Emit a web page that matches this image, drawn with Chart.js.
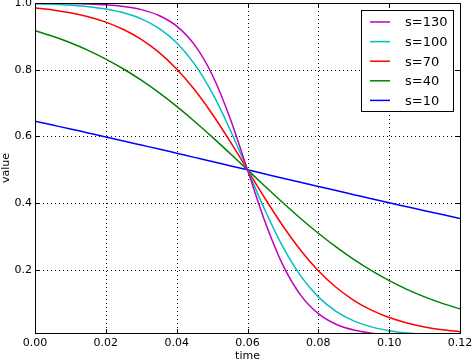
<!DOCTYPE html>
<html>
<head>
<meta charset="utf-8">
<script src="https://cdn.jsdelivr.net/npm/chart.js@4"></script>
<style>
  html, body { margin: 0; padding: 0; background: #fff; }
  canvas { display: block; }
</style>
</head>
<body>
<canvas id="chart" width="474" height="361"></canvas>
<script>
// sample times (x axis)
const times = [0, 0.005, 0.01, 0.015, 0.02, 0.025, 0.03, 0.035, 0.04, 0.045, 0.05, 0.055,
               0.06, 0.065, 0.07, 0.075, 0.08, 0.085, 0.09, 0.095, 0.1, 0.105, 0.11, 0.115, 0.12];

// values
const s130 = [0.9996, 0.9992, 0.9985, 0.9971, 0.9945, 0.9895, 0.9802, 0.9627, 0.9309, 0.8754, 0.7858, 0.6570,
              0.5, 0.3430, 0.2142, 0.1246, 0.0691, 0.0373, 0.0198, 0.0105, 0.0055, 0.0029, 0.0015, 0.0008, 0.0004];
const s100 = [0.9975, 0.9959, 0.9933, 0.9890, 0.9820, 0.9707, 0.9526, 0.9241, 0.8808, 0.8176, 0.7311, 0.6225,
              0.5, 0.3775, 0.2689, 0.1824, 0.1192, 0.0759, 0.0474, 0.0293, 0.0180, 0.0110, 0.0067, 0.0041, 0.0025];
const s70  = [0.9852, 0.9792, 0.9707, 0.9589, 0.9427, 0.9206, 0.8909, 0.8520, 0.8022, 0.7408, 0.6682, 0.5866,
              0.5, 0.4134, 0.3318, 0.2592, 0.1978, 0.1480, 0.1091, 0.0794, 0.0573, 0.0411, 0.0293, 0.0208, 0.0148];
const s40  = [0.9168, 0.9002, 0.8808, 0.8581, 0.8320, 0.8022, 0.7685, 0.7311, 0.6900, 0.6457, 0.5987, 0.5498,
              0.5, 0.4502, 0.4013, 0.3543, 0.3100, 0.2689, 0.2315, 0.1978, 0.1680, 0.1419, 0.1192, 0.0998, 0.0832];
const s10  = [0.6457, 0.6341, 0.6225, 0.6106, 0.5987, 0.5866, 0.5744, 0.5622, 0.5498, 0.5374, 0.5250, 0.5125,
              0.5, 0.4875, 0.4750, 0.4626, 0.4502, 0.4378, 0.4256, 0.4134, 0.4013, 0.3894, 0.3775, 0.3659, 0.3543];

const seriesLabels = ['s=130', 's=100', 's=70', 's=40', 's=10'];
const seriesValues = [s130, s100, s70, s40, s10];
const seriesColors = ['#bf00bf', '#00bfbf', '#ff0000', '#008000', '#0000ff'];

const xTicks = [0, 0.02, 0.04, 0.06, 0.08, 0.10, 0.12];
const yTicks = [0.2, 0.4, 0.6, 0.8, 1.0];

const FONT = 'DejaVu Sans';

// grid, spines, inward ticks and the boxed legend, matplotlib style
const mplFrame = {
    id: 'mplFrame',
    beforeDatasetsDraw(chart) {
        const { ctx, chartArea: a, scales: { x, y } } = chart;
        ctx.save();
        ctx.strokeStyle = '#000';
        ctx.lineWidth = 1;
        ctx.setLineDash([1, 3]);
        xTicks.forEach(v => {
            const px = Math.round(x.getPixelForValue(v)) + 0.5;
            ctx.beginPath(); ctx.moveTo(px, a.top); ctx.lineTo(px, a.bottom); ctx.stroke();
        });
        yTicks.forEach(v => {
            const py = Math.round(y.getPixelForValue(v)) + 0.5;
            ctx.beginPath(); ctx.moveTo(a.left, py); ctx.lineTo(a.right, py); ctx.stroke();
        });
        ctx.restore();
    },
    afterDatasetsDraw(chart) {
        const { ctx, chartArea: a, scales: { x, y } } = chart;
        ctx.save();
        ctx.strokeStyle = '#000';
        ctx.lineWidth = 1;
        // ticks pointing inward on all four sides
        xTicks.forEach(v => {
            const px = Math.round(x.getPixelForValue(v)) + 0.5;
            ctx.beginPath();
            ctx.moveTo(px, a.bottom); ctx.lineTo(px, a.bottom - 4);
            ctx.moveTo(px, a.top); ctx.lineTo(px, a.top + 4);
            ctx.stroke();
        });
        yTicks.forEach(v => {
            const py = Math.round(y.getPixelForValue(v)) + 0.5;
            ctx.beginPath();
            ctx.moveTo(a.left, py); ctx.lineTo(a.left + 4, py);
            ctx.moveTo(a.right, py); ctx.lineTo(a.right - 4, py);
            ctx.stroke();
        });
        ctx.strokeRect(Math.round(a.left) + 0.5, Math.round(a.top) + 0.5,
                       Math.round(a.right - a.left), Math.round(a.bottom - a.top));

        // legend
        const lx = 361, ly = 10, lw = 92, lh = 101;
        ctx.fillStyle = '#fff';
        ctx.fillRect(lx, ly, lw, lh);
        ctx.strokeRect(lx + 0.5, ly + 0.5, lw, lh);
        ctx.font = '13px "' + FONT + '"';
        ctx.textBaseline = 'middle';
        chart.data.datasets.forEach((ds, i) => {
            const ry = ly + 12 + i * 19.6;
            ctx.strokeStyle = ds.borderColor;
            ctx.lineWidth = 1.5;
            ctx.beginPath(); ctx.moveTo(370, ry); ctx.lineTo(390, ry); ctx.stroke();
            ctx.fillStyle = '#000';
            ctx.fillText(ds.label, 405, ry + 1);
        });
        ctx.restore();
    }
};

new Chart(document.getElementById('chart'), {
    type: 'line',
    data: {
        datasets: seriesLabels.map((label, i) => ({
            label: label,
            data: times.map((t, j) => ({ x: t, y: seriesValues[i][j] })),
            borderColor: seriesColors[i],
            borderWidth: 1.5,
            pointRadius: 0,
            fill: false,
            cubicInterpolationMode: 'monotone'
        }))
    },
    options: {
        responsive: false,
        animation: false,
        devicePixelRatio: 1,
        layout: { padding: { top: 3, right: 14, left: 0, bottom: 0 } },
        plugins: { legend: { display: false }, tooltip: { enabled: false } },
        scales: {
            x: {
                type: 'linear',
                min: 0,
                max: 0.12,
                afterBuildTicks: s => { s.ticks = xTicks.map(v => ({ value: v })); },
                afterFit: s => { s.height = 28; s.paddingLeft = 0; s.paddingRight = 0; },
                grid: { display: false, drawTicks: false },
                border: { display: false },
                ticks: {
                    padding: 4,
                    maxRotation: 0,
                    color: '#000',
                    font: { family: FONT, size: 11 },
                    callback: v => v.toFixed(2)
                },
                title: {
                    display: true,
                    text: 'time',
                    color: '#000',
                    font: { family: FONT, size: 11 },
                    padding: { top: 0, bottom: -2 }
                }
            },
            y: {
                type: 'linear',
                min: 0.011,
                max: 1.0,
                afterBuildTicks: s => { s.ticks = yTicks.map(v => ({ value: v })); },
                afterFit: s => { s.width = 35; s.paddingTop = 0; s.paddingBottom = 0; },
                grid: { display: false, drawTicks: false },
                border: { display: false },
                ticks: {
                    padding: 3,
                    color: '#000',
                    font: { family: FONT, size: 11 },
                    callback: v => v.toFixed(1)
                },
                title: {
                    display: true,
                    text: 'value',
                    color: '#000',
                    font: { family: FONT, size: 11 },
                    padding: { top: 0, bottom: 0 }
                }
            }
        }
    },
    plugins: [mplFrame]
});
</script>
</body>
</html>
